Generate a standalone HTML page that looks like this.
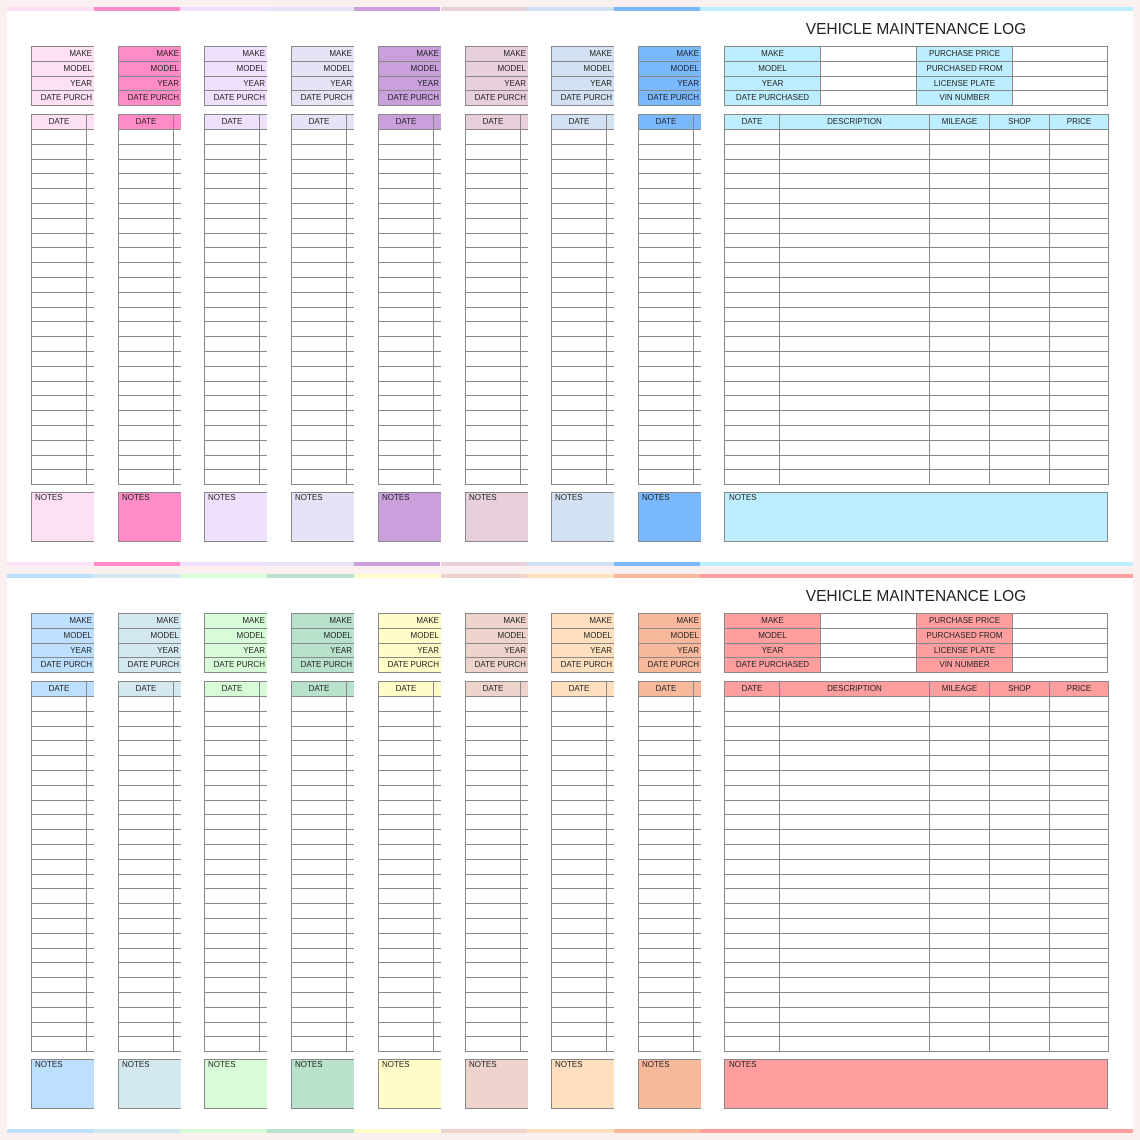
<!DOCTYPE html>
<html><head><meta charset="utf-8">
<style>
html,body{margin:0;padding:0}
body{width:1140px;height:1140px;background:#fbf0f0;position:relative;overflow:hidden;font-family:"Liberation Sans",sans-serif;color:#222}
div{position:absolute;box-sizing:border-box}
.c{border:1px solid #888;font-size:8px;line-height:13px;white-space:nowrap;overflow:hidden}
.t{font-size:15.5px;white-space:nowrap}
</style></head><body>
<script>
const pages=[
 {y:0,tabs:['#fde0f3','#ff8cc6','#efe0fc','#e5e3f5','#c9a0dc','#e8cfdc','#d2e2f2','#7ab8ff'],main:'#bdeeff'},
 {y:567,tabs:['#bde0fe','#d4e8ef','#d8fcd8','#b9e2cc','#fffcc8','#edd3cc','#fee0bf','#f7b89c'],main:'#ff9e9e'}
];
const infoLeft=['MAKE','MODEL','YEAR','DATE PURCHASED'];
const infoRight=['PURCHASE PRICE','PURCHASED FROM','LICENSE PLATE','VIN NUMBER'];
const tabLabels=['MAKE','MODEL','YEAR','DATE PURCH'];
const logCols=['DATE','DESCRIPTION','MILEAGE','SHOP','PRICE'];
const logX=[724,779,929,989,1049,1108];
const ROWS=24;
function mk(x,y,w,h,cls,name,bg,txt,align){
  const d=document.createElement('div');
  d.className=cls||'';
  
  
  d.style.left=x+'px';d.style.top=y+'px';d.style.width=w+'px';d.style.height=h+'px';
  if(bg)d.style.background=bg;
  if(txt!==undefined){d.textContent=txt;}
  if(align)d.style.textAlign=align;
  document.body.appendChild(d);return d;
}
pages.forEach((p,pi)=>{
  const Y=p.y;
  mk(7,Y+7,1126,559,'','page-'+pi,'#fff');
  p.tabs.forEach((c,i)=>{
    const bx=7+i*86.7;
    mk(bx,Y+7,86.7,4,'','top-bar-'+i,c);
    mk(bx,Y+562,86.7,4,'','bottom-bar-'+i,c);
    const x=Math.round(31+i*86.7), w=63;
    tabLabels.forEach((l,r)=>{
      const d=mk(x,Y+46+r*14.8,w,15.8,'c','tab-info-cell',c,l,'right');
      d.style.paddingRight='2px';d.style.borderRight='none';
    });
    const hd=mk(x,Y+114,w,15.8,'c','tab-date-header',c,'DATE','center');
    hd.style.borderRight='none';hd.style.paddingRight='8px';
    mk(x+55,Y+114,1,371,'','tab-divider','#888');
    for(let r=0;r<ROWS;r++){
      const d=mk(x,Y+129+r*14.8,w,15.8,'c','tab-row','#fff');d.style.borderRight='none';d.style.background='transparent';
    }
    const n=mk(x,Y+492,w,50,'c','tab-notes',c,'NOTES');n.style.paddingLeft='3px';n.style.borderRight='none';n.style.lineHeight='9px';
  });
  mk(700,Y+7,433,4,'','top-bar-main',p.main);
  mk(700,Y+562,433,4,'','bottom-bar-main',p.main);
  mk(724,Y+21,384,20,'t','title',null,'VEHICLE MAINTENANCE LOG','center');
  for(let r=0;r<4;r++){
    const yy=Y+46+r*14.8;
    mk(724,yy,97,15.8,'c','info-label',p.main,infoLeft[r],'center');
    mk(820,yy,97,15.8,'c','info-value-input','#fff');
    mk(916,yy,97,15.8,'c','info-label',p.main,infoRight[r],'center');
    mk(1012,yy,96,15.8,'c','info-value-input','#fff');
  }
  for(let c=0;c<5;c++){
    const w=logX[c+1]-logX[c]+1;
    mk(logX[c],Y+114,w,15.8,'c','log-header-'+logCols[c].toLowerCase(),p.main,logCols[c],'center');
    for(let r=0;r<ROWS;r++){
      const d=mk(logX[c],Y+129+r*14.8,w,15.8,'c','log-cell','#fff');
      
    }
  }
  const n=mk(724,Y+492,384,50,'c','main-notes',p.main,'NOTES');n.style.paddingLeft='4px';n.style.lineHeight='9px';
  
});
</script>
</body></html>
